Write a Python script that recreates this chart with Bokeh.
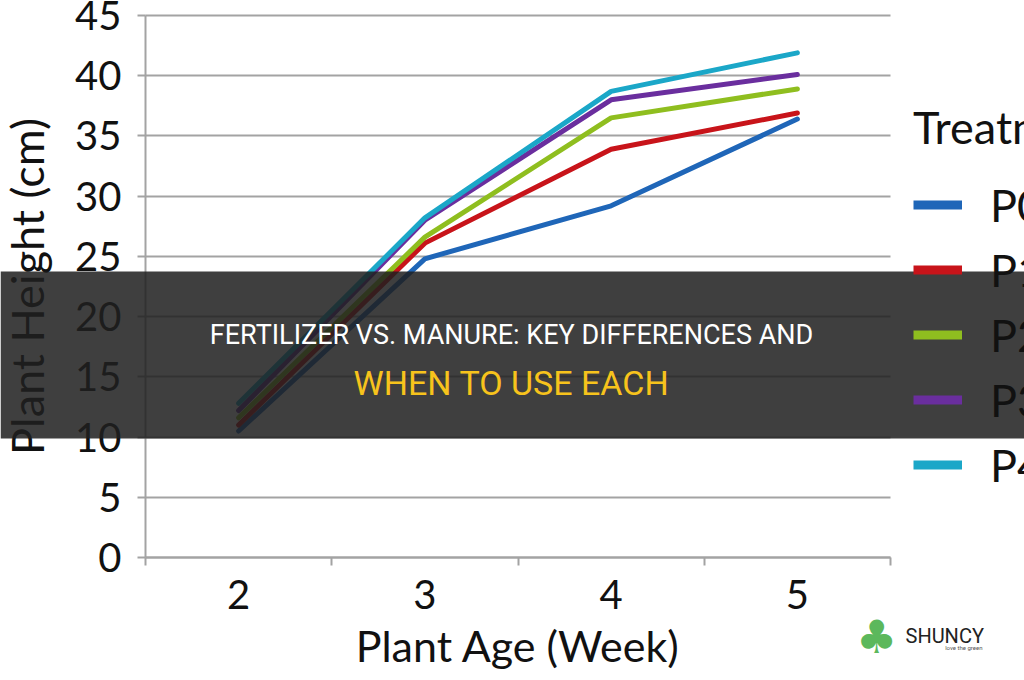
from bokeh.plotting import figure
from bokeh.models import (Range1d, FixedTicker, Legend, LegendItem, BoxAnnotation, Label, Grid)
from bokeh.embed import file_html
from bokeh.resources import INLINE

# ---- data ----
weeks = [2, 3, 4, 5]
week_labels = ["2", "3", "4", "5"]
p0 = [10.5, 24.8, 29.2, 36.4]
p1 = [11.0, 26.1, 33.9, 36.9]
p2 = [11.6, 26.6, 36.5, 38.9]
p3 = [12.2, 28.0, 38.0, 40.1]
p4 = [12.8, 28.2, 38.7, 41.9]
series_names = ["P0", "P1", "P2", "P3", "P4"]
series_colors = ["#1f66b8", "#c8141a", "#8fbe1f", "#6a2e9e", "#1ba7c8"]
y_ticks = [0, 5, 10, 15, 20, 25, 30, 35, 40, 45]
x_bounds = (1.5, 5.5)
y_bounds = (0, 45)

FONT = "Lato"
W, H = 1024, 680
# pixel placement of the plotting area inside the canvas
PL, PR, PT, PB = 145, 890, 15, 557

xs = (PR - PL) / (x_bounds[1] - x_bounds[0])
ys = (PB - PT) / (y_bounds[1] - y_bounds[0])
x_range = Range1d(x_bounds[0] - PL / xs, x_bounds[1] + (W - PR) / xs)
y_range = Range1d(y_bounds[0] - (H - PB) / ys, y_bounds[1] + PT / ys)

p = figure(width=W, height=H, output_backend="svg", toolbar_location=None,
           x_range=x_range, y_range=y_range,
           min_border_left=0, min_border_right=0, min_border_top=0,
           min_border_bottom=0)
p.outline_line_color = None
p.background_fill_color = "white"
p.border_fill_color = "white"

GRAY = "#a3a3a3"
TXT = "#111111"

# grid
p.xgrid.grid_line_color = None
p.ygrid.grid_line_color = None
hgrid = Grid(dimension=1, ticker=FixedTicker(ticks=y_ticks), grid_line_color=GRAY,
             grid_line_width=2)
if "cross_bounds" in Grid.properties():
    hgrid.cross_bounds = x_bounds
    p.add_layout(hgrid)
else:
    p.segment(x0=[x_bounds[0]] * len(y_ticks), y0=y_ticks,
              x1=[x_bounds[1]] * len(y_ticks), y1=y_ticks,
              line_color=GRAY, line_width=2)

# y axis
ya = p.yaxis[0]
ya.fixed_location = x_bounds[0]
ya.bounds = y_bounds
ya.ticker = FixedTicker(ticks=y_ticks)
ya.axis_line_color = GRAY
ya.axis_line_width = 2
ya.major_tick_line_color = GRAY
ya.major_tick_line_width = 2
ya.major_tick_in = 0
ya.major_tick_out = 8
ya.minor_tick_line_color = None
ya.major_label_text_font = FONT
ya.major_label_text_font_size = "40px"
ya.major_label_text_color = TXT
ya.major_label_standoff = 16
ya.axis_label = "Plant Height (cm)"
ya.axis_label_text_font = FONT
ya.axis_label_text_font_style = "normal"
ya.axis_label_text_font_size = "45px"
ya.axis_label_text_color = TXT
ya.axis_label_standoff = 18

# x axis
xa = p.xaxis[0]
xa.fixed_location = y_bounds[0]
xa.bounds = x_bounds
xa.ticker = FixedTicker(ticks=weeks, minor_ticks=[1.5, 2.5, 3.5, 4.5, 5.5])
xa.major_label_overrides = {w: l for w, l in zip(weeks, week_labels)}
xa.axis_line_color = GRAY
xa.axis_line_width = 2
xa.major_tick_line_color = None
xa.minor_tick_line_color = GRAY
xa.minor_tick_line_width = 2
xa.minor_tick_in = 0
xa.minor_tick_out = 8
xa.major_label_text_font = FONT
xa.major_label_text_font_size = "40px"
xa.major_label_text_color = TXT
xa.major_label_standoff = 14
xa.axis_label = "Plant Age (Week)"
xa.axis_label_text_font = FONT
xa.axis_label_text_font_style = "normal"
xa.axis_label_text_font_size = "43px"
xa.axis_label_text_color = TXT
xa.axis_label_standoff = 8

items = []
for name, yv, col in zip(series_names, [p0, p1, p2, p3, p4], series_colors):
    p.line(weeks, yv, line_color=col, line_width=5, line_cap="round", line_join="round")
    # thicker swatch for the legend only
    sw = p.line(weeks, yv, line_color=col, line_width=9, visible=False)
    items.append(LegendItem(label=name, renderers=[sw]))

legend = Legend(items=items, title="Treatment", location=(913, 183),
                title_text_font=FONT, title_text_font_size="45px",
                title_text_font_style="normal", title_text_color=TXT,
                title_standoff=18,
                label_text_font=FONT, label_text_font_size="45px",
                label_text_color=TXT,
                glyph_width=49, glyph_height=65, label_height=65,
                label_standoff=28, spacing=0, padding=0, margin=0,
                border_line_color=None, background_fill_alpha=0,
                click_policy="none")
p.add_layout(legend, "center")

# banner overlay
banner = BoxAnnotation(left=0, right=W, top=271, bottom=438,
                       left_units="canvas", right_units="canvas",
                       top_units="canvas", bottom_units="canvas",
                       fill_color="#1f1f1f", fill_alpha=0.86, line_color=None,
                       level="overlay")
p.add_layout(banner)

t1 = Label(x=511, y=334, x_units="canvas", y_units="canvas",
           text="FERTILIZER VS. MANURE: KEY DIFFERENCES AND",
           text_font="Roboto", text_font_size="27px", text_color="white",
           text_align="center", text_baseline="middle", level="overlay")
t2 = Label(x=511, y=382, x_units="canvas", y_units="canvas",
           text="WHEN TO USE EACH",
           text_font="Roboto", text_font_size="34px", text_color="#f7c31c",
           text_align="center", text_baseline="middle", level="overlay")
p.add_layout(t1)
p.add_layout(t2)

# logo
logo_icon = Label(x=876, y=636, x_units="canvas", y_units="canvas", text="\u2663",
                  text_font="DejaVu Sans", text_font_size="46px",
                  text_color="#5cb85c", text_align="center", text_baseline="middle")
logo_txt = Label(x=905, y=635, x_units="canvas", y_units="canvas", text="SHUNCY",
                 text_font="Roboto", text_font_size="20px", text_color="#222222",
                 text_align="left", text_baseline="middle")
logo_sub = Label(x=982, y=647, x_units="canvas", y_units="canvas", text="love the green",
                 text_font="Roboto", text_font_size="6px", text_color="#555555",
                 text_align="right", text_baseline="middle")
for lb in (logo_icon, logo_txt, logo_sub):
    p.add_layout(lb)

open("out.html", "w").write(file_html(p, INLINE))
